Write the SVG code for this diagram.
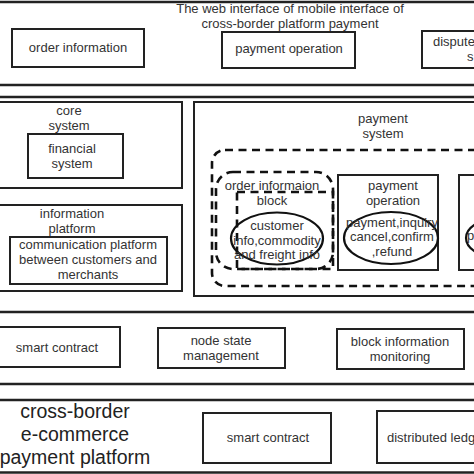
<svg xmlns="http://www.w3.org/2000/svg" width="474" height="474" viewBox="0 0 474 474">
<style>
  .t { font-family: "Liberation Sans", Arial, sans-serif; font-size: 13px; fill: #333; text-anchor: middle; }
  .ts { text-anchor: start; }
  .big { font-size: 19.5px; fill: #222; }
  .box { fill: none; stroke: #222; stroke-width: 2; }
  .band { fill: none; stroke: #222; stroke-width: 2.5; }
  .dash { fill: none; stroke: #111; stroke-width: 2.6; stroke-dasharray: 8 5.5; }
  .ell { fill: none; stroke: #111; stroke-width: 2.2; }
</style>
<rect width="474" height="474" fill="#fff"/>

<g id="bands">
  <line class="band" x1="0" y1="2" x2="474" y2="2" stroke-width="3"/>
  <line class="band" x1="0" y1="85" x2="474" y2="85"/>
  <line class="band" x1="0" y1="97" x2="474" y2="97"/>
  <line class="band" x1="0" y1="312" x2="474" y2="312"/>
  <line class="band" x1="0" y1="384" x2="474" y2="384"/>
  <line class="band" x1="0" y1="400" x2="474" y2="400"/>
  <line class="band" x1="0" y1="472.5" x2="474" y2="472.5" stroke-width="4"/>
</g>

<g id="title">
  <text class="t" x="290" y="13">The web interface of mobile interface of</text>
  <text class="t" x="290" y="28">cross-border platform payment</text>
</g>

<g id="order-information">
  <rect class="box" x="12" y="29" width="132" height="38"/>
  <text class="t" x="78" y="52">order information</text>
</g>
<g id="payment-operation-top">
  <rect class="box" x="222" y="32" width="133" height="36"/>
  <text class="t" x="289" y="53">payment operation</text>
</g>
<g id="dispute">
  <rect class="box" x="422" y="31" width="60" height="37"/>
  <text class="t ts" x="433" y="46">dispute</text>
  <text class="t ts" x="467" y="61">s</text>
</g>

<g id="core-system">
  <rect class="box" x="-3" y="102" width="185" height="86"/>
  <text class="t" x="69" y="115">core</text>
  <text class="t" x="69" y="130">system</text>
</g>
<g id="financial-system">
  <rect class="box" x="28" y="134" width="95" height="44"/>
  <text class="t" x="72" y="153">financial</text>
  <text class="t" x="72" y="168">system</text>
</g>

<g id="information-platform">
  <rect class="box" x="-3" y="205" width="185" height="86"/>
  <text class="t" x="72" y="218">information</text>
  <text class="t" x="72" y="233">platform</text>
</g>
<g id="communication-platform">
  <rect class="box" x="10" y="237" width="157" height="47"/>
  <text class="t" x="88" y="249">communication platform</text>
  <text class="t" x="88" y="264">between customers and</text>
  <text class="t" x="88" y="279">merchants</text>
</g>

<g id="payment-system">
  <rect class="box" x="194" y="102" width="290" height="194"/>
  <text class="t" x="383" y="123">payment</text>
  <text class="t" x="383" y="138">system</text>
</g>
<g id="blockchain-dashed">
  <rect class="dash" x="212" y="150" width="280" height="136" rx="13"/>
</g>
<g id="order-informaion">
  <rect class="dash" x="216" y="172" width="117" height="97" rx="17"/>
  <text class="t" x="272" y="190">order informaion</text>
</g>
<g id="block">
  <rect class="dash" x="237" y="192" width="96" height="77"/>
  <text class="t" x="272" y="205">block</text>
</g>
<g id="customer-info">
  <ellipse class="ell" cx="277" cy="238.5" rx="46" ry="26"/>
  <text class="t" x="277" y="230">customer</text>
  <text class="t" x="277" y="245">info,commodity</text>
  <text class="t" x="277" y="259">and freight info</text>
</g>
<g id="payment-operation">
  <rect class="box" x="338" y="175" width="100" height="95"/>
  <text class="t" x="393" y="190">payment</text>
  <text class="t" x="393" y="205">operation</text>
  <ellipse class="ell" cx="391" cy="238" rx="47" ry="26"/>
  <text class="t" x="392" y="227">payment,inquiry</text>
  <text class="t" x="392" y="241">cancel,confirm</text>
  <text class="t" x="392" y="256">,refund</text>
</g>
<g id="third-module">
  <rect class="box" x="459" y="175" width="40" height="95"/>
  <ellipse class="ell" cx="500" cy="238" rx="34" ry="20"/>
  <text class="t ts" x="467" y="240">p</text>
</g>

<g id="smart-contract-1">
  <rect class="box" x="-3" y="327" width="123" height="40"/>
  <text class="t" x="57" y="352">smart contract</text>
</g>
<g id="node-state">
  <rect class="box" x="158" y="328" width="127" height="40"/>
  <text class="t" x="221" y="345">node state</text>
  <text class="t" x="221" y="360">management</text>
</g>
<g id="block-monitoring">
  <rect class="box" x="337" y="329" width="127" height="40"/>
  <text class="t" x="400" y="346">block information</text>
  <text class="t" x="400" y="361">monitoring</text>
</g>

<g id="platform-label">
  <text class="t big" x="75" y="418">cross-border</text>
  <text class="t big" x="75" y="441">e-commerce</text>
  <text class="t big" x="75" y="464">payment platform</text>
</g>
<g id="smart-contract-2">
  <rect class="box" x="203" y="413" width="128" height="50"/>
  <text class="t" x="268" y="442">smart  contract</text>
</g>
<g id="distributed-ledger">
  <rect class="box" x="377" y="411" width="110" height="52"/>
  <text class="t ts" x="387" y="442">distributed ledg</text>
</g>

<g id="connectors"></g>
</svg>
